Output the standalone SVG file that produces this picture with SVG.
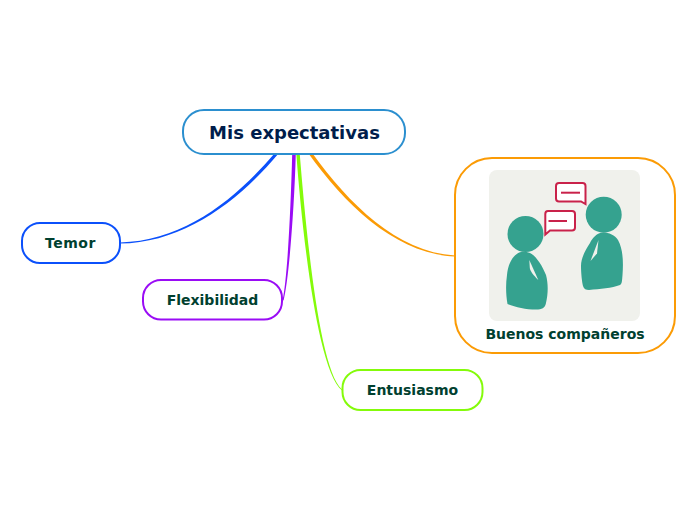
<svg xmlns="http://www.w3.org/2000/svg" width="696" height="520" viewBox="0 0 696 520">
<style>
text{font-family:"DejaVu Sans",Verdana,sans-serif;font-weight:700;text-anchor:middle;fill:#00402f}
.n{fill:#fff;stroke-width:2}
.t{font-size:14px}
.g{fill:#35a28f}
.b{fill:#fff;stroke:#c9224a;stroke-width:2}
.l{fill:none;stroke:#c9224a;stroke-width:2}
</style>
<g id="connectors">
<path fill="#0b50fb" d="M274.500 153.500C236.600 197.800 185 241.200 120 242.400L120 243.600C185 242.800 239.400 200.200 278.500 153.500Z"/>
<path fill="#9a0cf5" d="M292.200 153.500C290.800 210 287.200 280 282.600 300L283.600 300.400C288.800 280 294.200 210 295.800 153.500Z"/>
<path fill="#84fb0a" d="M296.300 153.500C302 230 317 370 342 390.600L342 389.400C319 370 306 230 299.700 153.500Z"/>
<path fill="#fb9b05" d="M308.500 153.500C345.500 205.100 395.600 253.800 455 256.600L455 255.400C396.400 252.200 348.500 202.900 312.500 153.500Z"/>
</g>
<g id="root">
<rect class="n" x="183" y="110" width="222" height="44" rx="21" stroke="#2b8fcf"/>
<text x="294.500" y="139" font-size="18" style="fill:#001d4b">Mis expectativas</text>
</g>
<g id="temor">
<rect class="n" x="22" y="223" width="98" height="40" rx="18" stroke="#0b50fb"/>
<text class="t" x="70.500" y="248" letter-spacing="0.500">Temor</text>
</g>
<g id="flexibilidad">
<rect class="n" x="143" y="280" width="139" height="39.500" rx="18" stroke="#9a0cf5"/>
<text class="t" x="212.500" y="305">Flexibilidad</text>
</g>
<g id="entusiasmo">
<rect class="n" x="342.500" y="370" width="140" height="40" rx="18" stroke="#84fb0a"/>
<text class="t" x="412.500" y="395">Entusiasmo</text>
</g>
<g id="companeros">
<rect class="n" x="455" y="158" width="220" height="195" rx="37" stroke="#fb9b05"/>
<rect x="489" y="170" width="151" height="151" rx="8" fill="#f0f1ec"/>
<path class="b" d="M559 183H582.500Q585.500 183 585.500 186V204L581 201.500H559Q556 201.500 556 198.500V186Q556 183 559 183Z"/>
<path class="l" d="M561 192.700H580"/>
<path class="b" d="M548 211H572Q575 211 575 214V227.500Q575 230.500 572 230.500H550L545.300 234.500V214Q545.300 211 548 211Z"/>
<path class="l" d="M548.500 221H567"/>
<circle class="g" cx="525.500" cy="234" r="18"/>
<circle class="g" cx="603.700" cy="214.700" r="18"/>
<path class="g" d="M521 252C513 254 508 264 507 275C505.500 285 506 296 507.500 304C515 307 526 309.500 536 309.500C542 309.500 545 308 546 303C548 295 548.500 284 546 275C542 265 536 256 530 253C527 252 524 251.500 521 252Z"/>
<path d="M529.300 260L538.300 280C534 276 530 271 529.800 268Z" fill="#f0f1ec"/>
<path class="g" d="M603 232.500C597 232.500 592.500 238 590 243C585 251 581 258 581 266C581 273 582 282 583 286C584 289 586 290 589 290C600 289 612 288 620 285C622 284 622 281 622.500 275C623.500 262 623 249 618 240C615 235 609 232.500 603 232.500Z"/>
<path d="M598.500 240L590.500 261L597 253.500Z" fill="#f0f1ec"/>
<text class="t" x="565" y="339">Buenos compañeros</text>
</g>
</svg>
